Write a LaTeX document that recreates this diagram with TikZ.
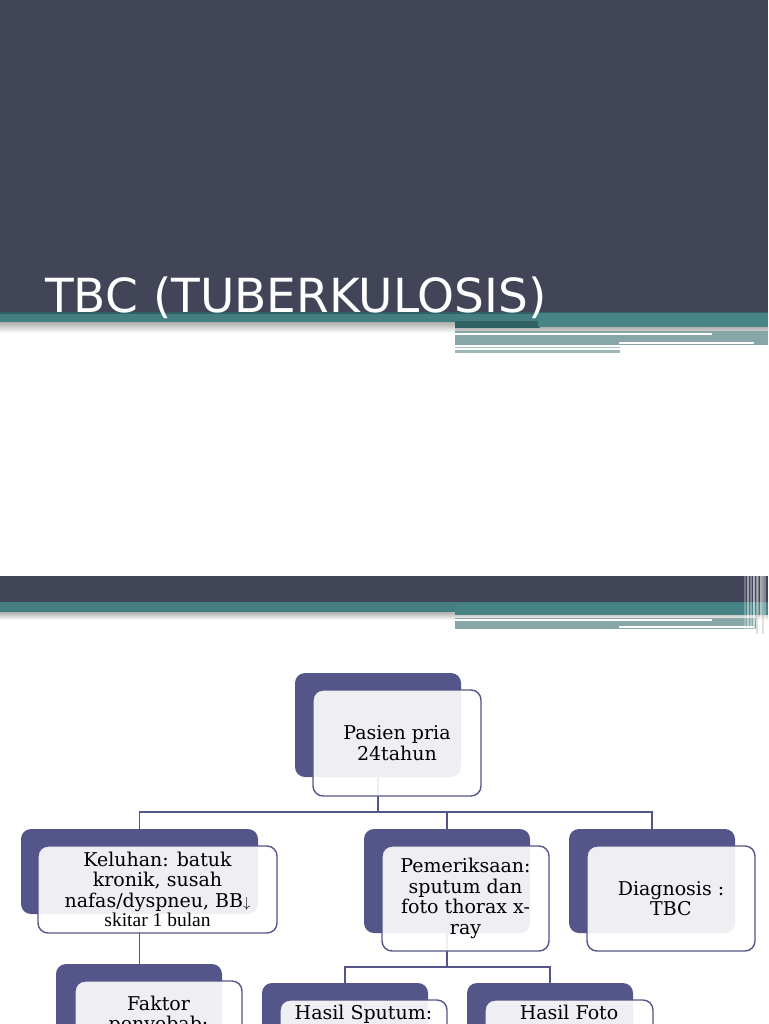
\documentclass[tikz,border=0pt]{standalone}
\usepackage{fontspec}
\newfontfamily\titlefont{DejaVu Sans}
\newfontfamily\dfont{DejaVu Serif}
\newfontfamily\tfont{Liberation Serif}
\definecolor{slidedark}{HTML}{424457}
\definecolor{tealmain}{HTML}{447E80}
\definecolor{tealblock}{HTML}{478486}
\definecolor{tealdark}{HTML}{2F6164}
\definecolor{tealgrey}{HTML}{86A6A8}
\definecolor{teallight}{HTML}{A9BFC1}
\definecolor{boxdark}{HTML}{545689}
\tikzset{
  backbox/.style={fill=boxdark, rounded corners=10pt, inner sep=0pt, minimum width=166pt, minimum height=104pt},
  frontbox/.style={draw=boxdark, line width=1.4pt, fill=white, fill opacity=0.9, text opacity=1,
     rounded corners=10pt, inner sep=0pt, minimum width=167pt, minimum height=105pt,
     align=center, font=\dfont\fontsize{19}{20.5}\selectfont},
  conn/.style={draw=boxdark, line width=1.4pt},
  dtext/.style={inner sep=0pt, font=\dfont\fontsize{19}{20.5}\selectfont, anchor=base}
}
\begin{document}
\begin{tikzpicture}[x=1pt,y=-1pt]
\useasboundingbox (0,0) rectangle (768,1024);
\clip (0,0) rectangle (768,1024);
\fill[white] (0,0) rectangle (768,1024);

% ---------- title slide ----------
\fill[slidedark] (0,0) rectangle (768,312.5);
\shade[top color=gray!70, bottom color=white] (0,321) rectangle (768,333);
\fill[tealmain] (0,312) rectangle (768,322);
\fill[tealdark] (0,312) rectangle (768,314);
\shade[top color=gray!60, bottom color=white] (455,327) rectangle (768,338);
\fill[tealdark] (455,320.5) rectangle (540,327.5);
\fill[tealblock] (538,313) rectangle (768,327);
\fill[tealgrey] (455,331) rectangle (768,345);
\fill[white] (455,332.8) rectangle (712,334.8);
\fill[white] (619,341.6) rectangle (754,343.6);
\fill[teallight] (455,346.5) rectangle (620,348);
\fill[tealgrey!80] (455,350) rectangle (620,352.5);

\node[anchor=base west, text=white, inner sep=0pt,
      font=\titlefont\fontsize{47}{47}\selectfont] (title) at (45,312) {TBC (TUBERKULOSIS)};

% ---------- second slide header ----------
\fill[slidedark] (0,576) rectangle (768,602.5);
\shade[top color=gray!70, bottom color=white] (0,611) rectangle (768,620);
\fill[tealmain] (0,602) rectangle (768,612);
\fill[tealblock] (455,604) rectangle (768,615);
\fill[tealgrey] (455,617.5) rectangle (756,628.5);
\fill[white] (455,618.6) rectangle (712,620.6);
\fill[white] (619,625.6) rectangle (754,627.6);
\foreach \xx/\op in {744/0.25,747/0.5,750/0.35,753/0.6,757/0.3,760/0.55,764/0.35}
  \fill[white, opacity=\op] (\xx,576) rectangle ++(2,58);
\fill[gray!40, opacity=0.6] (756,576) rectangle (757.5,634);
\fill[gray!40, opacity=0.6] (762,576) rectangle (763.5,634);

% ---------- hierarchy: back boxes ----------
\node[backbox] (pb) at (378,725) {};
\node[backbox, minimum width=237pt, minimum height=85pt] (kb) at (139.5,871.5) {};
\node[backbox] (eb) at (447,881) {};
\node[backbox] (db) at (652,881) {};
\node[backbox] (fb) at (139,1016) {};
\node[backbox] (sb) at (345,1035) {};
\node[backbox] (hb) at (550,1035) {};

% ---------- connectors ----------
\draw[conn] (pb.south) -- (pb.south |- 0,812) -| (kb.north);
\draw[conn] (pb.south |- 0,812) -| (eb.north);
\draw[conn] (pb.south |- 0,812) -| (db.north);
\draw[conn] (kb.south) -- (kb.south |- fb.north);
\draw[conn] (eb.south) -- (eb.south |- 0,967) -| (sb.north);
\draw[conn] (eb.south |- 0,967) -| (hb.north);

% ---------- front boxes ----------
\node[frontbox, minimum width=168pt, minimum height=106pt] (pf) at (397,743) {Pasien pria\\24tahun};
\node[frontbox, minimum width=239pt, minimum height=87pt] (kf) at (157.5,889.5)
  {Keluhan: batuk\\kronik, susah\\nafas/dyspneu, BB{\fontsize{14}{14}\selectfont$\downarrow$}\\[-1pt]{\tfont\fontsize{19.5}{20}\selectfont skitar 1 bulan}};
\node[frontbox] (ef) at (465.5,898.5) {Pemeriksaan:\\sputum dan\\foto thorax x-\\ray};
\node[frontbox, minimum width=168pt] (df) at (671,898.5) {Diagnosis :\\TBC};
\node[frontbox, minimum height=104pt] (ff) at (158.5,1033) {};
\node[frontbox] (sf) at (363.5,1052.5) {};
\node[frontbox, minimum width=168pt] (hf) at (569,1052.5) {};

\node[dtext] (ft1) at (158.5,1010) {Faktor};
\node[dtext] (ft2) at (158.5,1030.5) {penyebab:};
\node[dtext] (st1) at (363.5,1019) {Hasil Sputum:};
\node[dtext] (ht1) at (569,1019) {Hasil Foto};
\end{tikzpicture}
\end{document}
